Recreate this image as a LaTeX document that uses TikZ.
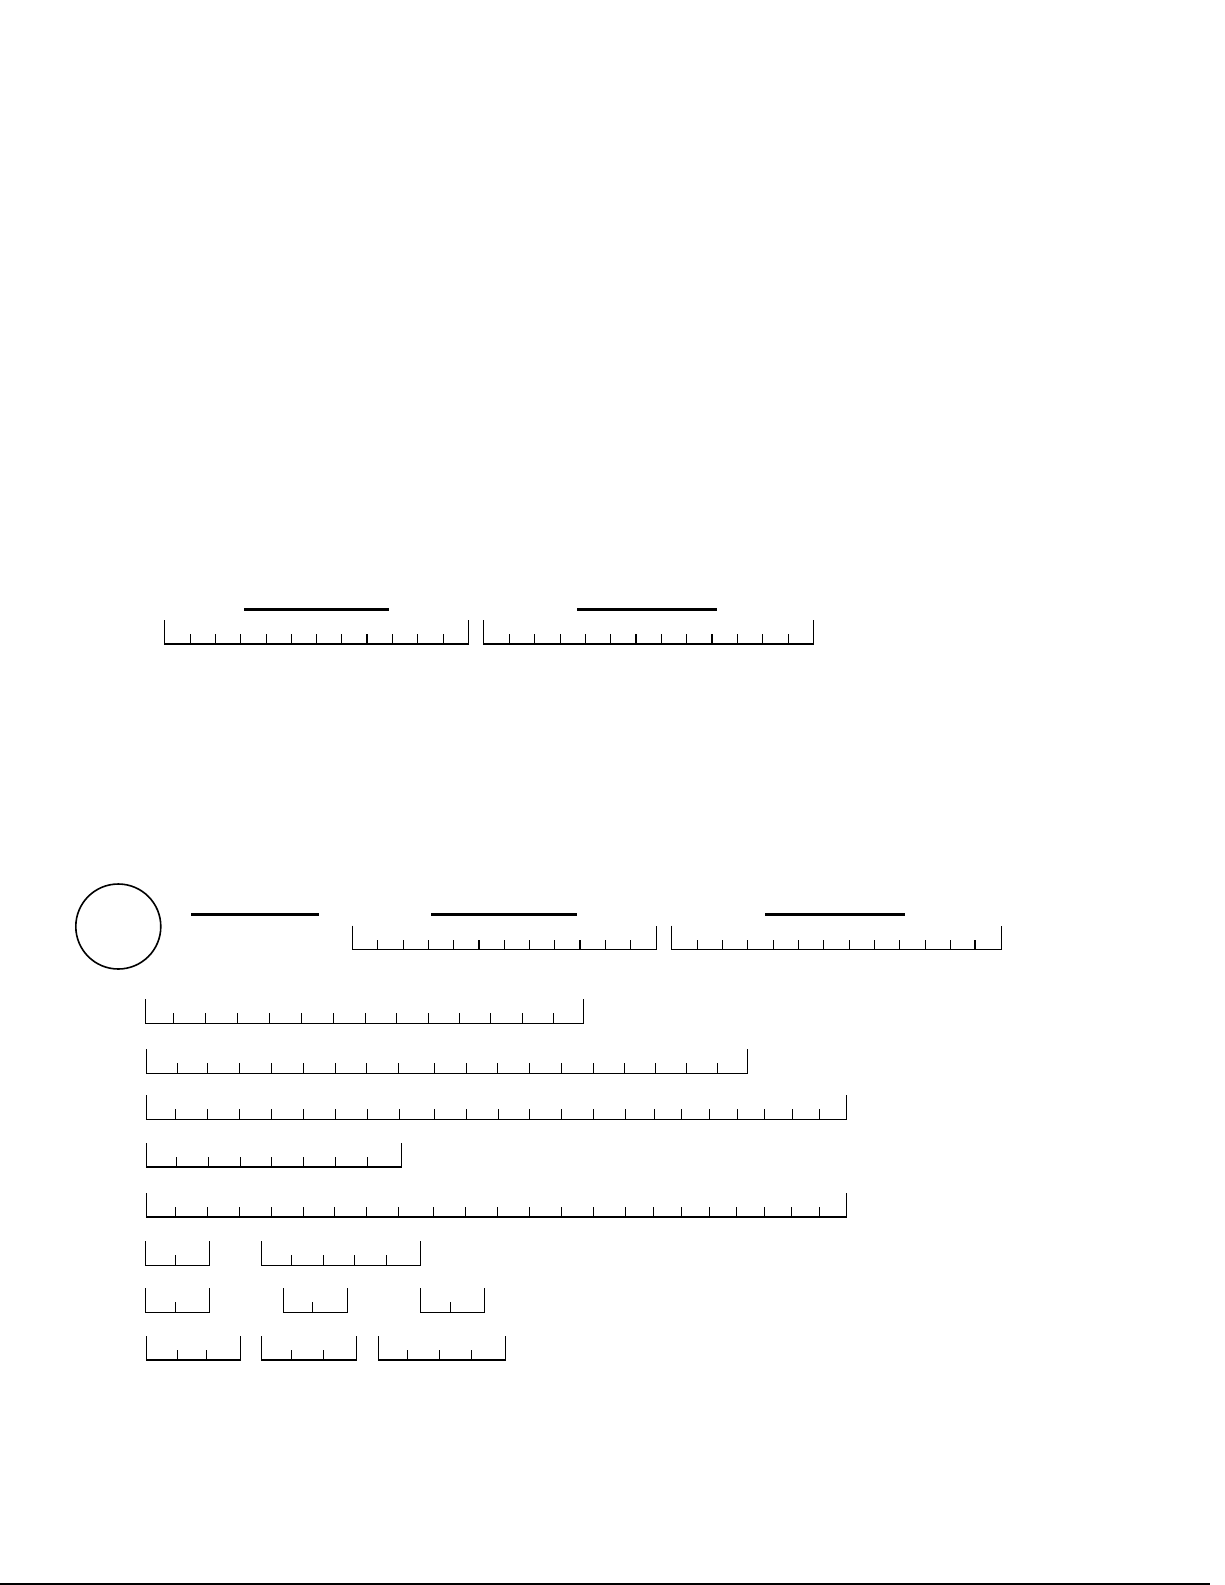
\documentclass[tikz,border=0pt]{standalone}
\usepackage{tikz}
\tikzset{
   slotline/.style={line width=0.6pt},
   blankbar/.style={line width=1.5pt},
   ringline/.style={line width=0.8pt}
}
% one word: baseline y, left end, right end, list of letter ticks
\newcommand{\wordslots}[4]{%
  \draw[slotline] (#2,#1-24) -- (#2,#1) -- (#3,#1) -- (#3,#1-24);
  \foreach \tk in {#4} {\draw[slotline] (\tk,#1) -- (\tk,#1-10);}
}

\begin{document}
\begin{tikzpicture}[x=0.5pt,y=-0.5pt]
\useasboundingbox (0,0) rectangle (1225,1585);

%%% HELP LINES - uncomment to design/extend
% \draw[step=100,gray,very thin] (0,0) grid (1225,1585);

%% FIRST LINE
\draw[blankbar] (244.3,609) -- (389,609);
\wordslots{644}{164.3}{468.3}{190.3,215.3,240.7,266.3,291.7,316.3,341.3,367,392.3,417.3,443.3}
\draw[blankbar] (577.3,609) -- (716.7,609);
\wordslots{644}{483.3}{813.3}{509.3,534.3,560.3,585.3,610.7,636,661.3,686.7,712,737.3,762.3,788.7}

%% SECOND LINE
% circle
\draw[ringline] (118.3,926.5) circle[radius=42.5];
\draw[blankbar] (191,914) -- (319,914);
\draw[blankbar] (431,914) -- (576.7,914);
\wordslots{949.5}{352.7}{656.7}{377.7,403.3,428.3,453.7,479,504.3,529.3,554.7,580,605.3,630.7}
\draw[blankbar] (765,914) -- (904.7,914);
\wordslots{949.5}{671.3}{1001.7}{697.7,722.3,747.3,773.3,798.3,823.3,849.3,874.7,899.3,925.3,950.7,975}

%% ROWS
\wordslots{1023.3}{145.7}{583.3}{173.7,205.7,237.3,269.3,301.3,333.3,365.3,396.3,428.3,459.3,490.3,522.3,553.3}
\wordslots{1073.3}{146.7}{747.3}{177.3,207.3,239.3,271.3,303.3,335.3,366.3,398.3,434.3,466.3,497.3,529.3,561.3,593.3,624.3,655.3,686.3,717.3}
\wordslots{1119.3}{146.7}{846.7}{175.3,207.3,239.3,271.3,303.3,335.3,367.3,399.3,434.3,466.3,498.3,529.3,561.3,593.3,625.3,654.3,681.3,709.3,737.3,764.3,792.3,819.3}
\wordslots{1167}{146.7}{401.3}{176.3,208.3,240.3,271.3,303.3,335.3,367.3}
\wordslots{1217}{146.7}{846.7}{175.3,207.3,239.3,271.3,303.3,334.3,366.3,398.3,433.3,465.3,497.3,529.3,561.3,593.3,625.3,653.3,681.3,709.3,736.3,764.3,791.3,819.3}

% short words
\wordslots{1265.3}{145.7}{209.3}{175.3}
\wordslots{1265.3}{261.7}{420.7}{291.3,323.3,354.3,386.3}

\wordslots{1312.3}{145.7}{209.3}{175.3}
\wordslots{1312.3}{283.3}{347.3}{312.3}
\wordslots{1312.3}{420.7}{484.3}{450.3}

\wordslots{1360}{146.3}{240.7}{177.7,206.7}
\wordslots{1360}{261.7}{356.7}{291.3,323.3}
\wordslots{1360}{378.3}{505.7}{407.3,439.7,471.7}

%% Bottom rule
\draw[line width=1pt] (0,1583.5) -- (1210,1583.5);
\end{tikzpicture}
\end{document}
